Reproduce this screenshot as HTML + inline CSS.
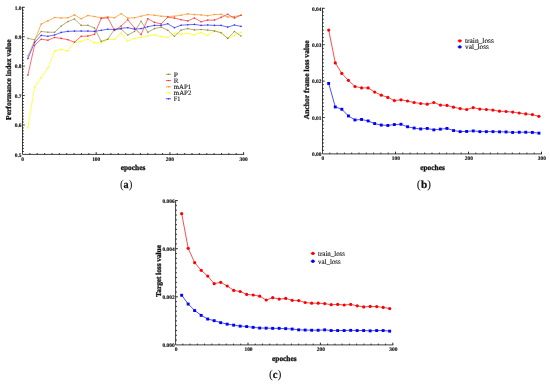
<!DOCTYPE html>
<html><head><meta charset="utf-8"><title>Figure</title>
<style>
html,body{margin:0;padding:0;background:#fff}
svg{display:block;filter:blur(.3px)}
text{font-family:"Liberation Serif","DejaVu Serif",serif;fill:#111;text-rendering:geometricPrecision}
.tk{font-size:5.4px;font-weight:bold;stroke:#111;stroke-width:.15px}
.lb{font-size:7.5px;font-weight:bold;stroke:#111;stroke-width:.3px}
.lg{font-size:7.2px;stroke:#111;stroke-width:.12px}
.cap{font-size:12px}
.ax{stroke:#2a2a2a;stroke-width:.9;fill:none}
.mt{stroke:#111;stroke-width:.9;fill:none}
.ln{fill:none;stroke-linejoin:round}
</style></head><body>
<svg width="550" height="384" viewBox="0 0 550 384">
<rect width="550" height="384" fill="#fff"/>

<g id="chart-a">
<path class="ax" d="M22.5 6.8V154.4H244.1"/>
<path class="mt" d="M29.87 154.4v-1.3M37.24 154.4v-1.3M44.61 154.4v-1.3M51.98 154.4v-1.3M59.35 154.4v-1.3M66.72 154.4v-1.3M74.09 154.4v-1.3M81.46 154.4v-1.3M88.83 154.4v-1.3M96.20 154.4v-2.2M103.57 154.4v-1.3M110.94 154.4v-1.3M118.31 154.4v-1.3M125.68 154.4v-1.3M133.05 154.4v-1.3M140.42 154.4v-1.3M147.79 154.4v-1.3M155.16 154.4v-1.3M162.53 154.4v-1.3M169.90 154.4v-2.2M177.27 154.4v-1.3M184.64 154.4v-1.3M192.01 154.4v-1.3M199.38 154.4v-1.3M206.75 154.4v-1.3M214.12 154.4v-1.3M221.49 154.4v-1.3M228.86 154.4v-1.3M236.23 154.4v-1.3M243.60 154.4v-2.2M22.5 151.46h1.3M22.5 148.52h1.3M22.5 145.57h1.3M22.5 142.63h1.3M22.5 139.69h1.3M22.5 136.75h1.3M22.5 133.81h1.3M22.5 130.86h1.3M22.5 127.92h1.3M22.5 124.98h2.2M22.5 122.04h1.3M22.5 119.10h1.3M22.5 116.15h1.3M22.5 113.21h1.3M22.5 110.27h1.3M22.5 107.33h1.3M22.5 104.39h1.3M22.5 101.44h1.3M22.5 98.50h1.3M22.5 95.56h2.2M22.5 92.62h1.3M22.5 89.68h1.3M22.5 86.73h1.3M22.5 83.79h1.3M22.5 80.85h1.3M22.5 77.91h1.3M22.5 74.97h1.3M22.5 72.02h1.3M22.5 69.08h1.3M22.5 66.14h2.2M22.5 63.20h1.3M22.5 60.26h1.3M22.5 57.31h1.3M22.5 54.37h1.3M22.5 51.43h1.3M22.5 48.49h1.3M22.5 45.55h1.3M22.5 42.60h1.3M22.5 39.66h1.3M22.5 36.72h2.2M22.5 33.78h1.3M22.5 30.84h1.3M22.5 27.89h1.3M22.5 24.95h1.3M22.5 22.01h1.3M22.5 19.07h1.3M22.5 16.13h1.3M22.5 13.18h1.3M22.5 10.24h1.3M22.5 7.30h2.2"/>
<text class="tk" x="22.5" y="161.0" text-anchor="middle">0</text>
<text class="tk" x="96.2" y="161.0" text-anchor="middle">100</text>
<text class="tk" x="169.9" y="161.0" text-anchor="middle">200</text>
<text class="tk" x="243.6" y="161.0" text-anchor="middle">300</text>
<text class="tk" x="21.5" y="156.6" text-anchor="end">0.5</text>
<text class="tk" x="21.5" y="127.2" text-anchor="end">0.6</text>
<text class="tk" x="21.5" y="97.8" text-anchor="end">0.7</text>
<text class="tk" x="21.5" y="68.3" text-anchor="end">0.8</text>
<text class="tk" x="21.5" y="38.9" text-anchor="end">0.9</text>
<text class="tk" x="21.5" y="9.5" text-anchor="end">1.0</text>
<polyline class="ln" stroke="#ffff00" stroke-width="0.68" points="27.9,127.9 34.6,87.0 41.2,77.6 47.9,68.0 54.6,51.1 61.2,49.4 67.9,51.0 74.5,42.0 81.2,41.4 87.9,39.2 94.5,42.9 101.2,43.0 107.8,39.4 114.5,39.4 121.2,33.1 127.8,41.0 134.5,38.5 141.1,37.1 147.8,36.0 154.5,34.8 161.1,36.6 167.8,37.5 174.4,33.3 181.1,34.3 187.8,33.3 194.4,35.0 201.1,32.4 207.7,35.4 214.4,31.1 221.1,32.4 227.7,38.4 234.4,35.4 241.0,32.2"/>
<g fill="#ffff00"><circle cx="27.9" cy="127.9" r="0.8"/><circle cx="34.6" cy="87.0" r="0.8"/><circle cx="41.2" cy="77.6" r="0.8"/><circle cx="47.9" cy="68.0" r="0.8"/><circle cx="54.6" cy="51.1" r="0.8"/><circle cx="61.2" cy="49.4" r="0.8"/><circle cx="67.9" cy="51.0" r="0.8"/><circle cx="74.5" cy="42.0" r="0.8"/><circle cx="81.2" cy="41.4" r="0.8"/><circle cx="87.9" cy="39.2" r="0.8"/><circle cx="94.5" cy="42.9" r="0.8"/><circle cx="101.2" cy="43.0" r="0.8"/><circle cx="107.8" cy="39.4" r="0.8"/><circle cx="114.5" cy="39.4" r="0.8"/><circle cx="121.2" cy="33.1" r="0.8"/><circle cx="127.8" cy="41.0" r="0.8"/><circle cx="134.5" cy="38.5" r="0.8"/><circle cx="141.1" cy="37.1" r="0.8"/><circle cx="147.8" cy="36.0" r="0.8"/><circle cx="154.5" cy="34.8" r="0.8"/><circle cx="161.1" cy="36.6" r="0.8"/><circle cx="167.8" cy="37.5" r="0.8"/><circle cx="174.4" cy="33.3" r="0.8"/><circle cx="181.1" cy="34.3" r="0.8"/><circle cx="187.8" cy="33.3" r="0.8"/><circle cx="194.4" cy="35.0" r="0.8"/><circle cx="201.1" cy="32.4" r="0.8"/><circle cx="207.7" cy="35.4" r="0.8"/><circle cx="214.4" cy="31.1" r="0.8"/><circle cx="221.1" cy="32.4" r="0.8"/><circle cx="227.7" cy="38.4" r="0.8"/><circle cx="234.4" cy="35.4" r="0.8"/><circle cx="241.0" cy="32.2" r="0.8"/></g>
<polyline class="ln" stroke="#8f8a3a" stroke-width="0.68" points="27.9,38.4 34.6,39.7 41.2,31.5 47.9,32.2 54.6,32.3 61.2,26.0 67.9,21.6 74.5,19.0 81.2,25.4 87.9,25.3 94.5,28.0 101.2,41.4 107.8,39.2 114.5,29.2 121.2,29.2 127.8,35.0 134.5,31.5 141.1,21.3 147.8,32.2 154.5,28.6 161.1,27.1 167.8,30.3 174.4,36.3 181.1,30.1 187.8,28.6 194.4,29.9 201.1,29.5 207.7,30.1 214.4,30.9 221.1,32.8 227.7,38.4 234.4,31.5 241.0,36.0"/>
<g fill="#8f8a3a"><circle cx="27.9" cy="38.4" r="0.8"/><circle cx="34.6" cy="39.7" r="0.8"/><circle cx="41.2" cy="31.5" r="0.8"/><circle cx="47.9" cy="32.2" r="0.8"/><circle cx="54.6" cy="32.3" r="0.8"/><circle cx="61.2" cy="26.0" r="0.8"/><circle cx="67.9" cy="21.6" r="0.8"/><circle cx="74.5" cy="19.0" r="0.8"/><circle cx="81.2" cy="25.4" r="0.8"/><circle cx="87.9" cy="25.3" r="0.8"/><circle cx="94.5" cy="28.0" r="0.8"/><circle cx="101.2" cy="41.4" r="0.8"/><circle cx="107.8" cy="39.2" r="0.8"/><circle cx="114.5" cy="29.2" r="0.8"/><circle cx="121.2" cy="29.2" r="0.8"/><circle cx="127.8" cy="35.0" r="0.8"/><circle cx="134.5" cy="31.5" r="0.8"/><circle cx="141.1" cy="21.3" r="0.8"/><circle cx="147.8" cy="32.2" r="0.8"/><circle cx="154.5" cy="28.6" r="0.8"/><circle cx="161.1" cy="27.1" r="0.8"/><circle cx="167.8" cy="30.3" r="0.8"/><circle cx="174.4" cy="36.3" r="0.8"/><circle cx="181.1" cy="30.1" r="0.8"/><circle cx="187.8" cy="28.6" r="0.8"/><circle cx="194.4" cy="29.9" r="0.8"/><circle cx="201.1" cy="29.5" r="0.8"/><circle cx="207.7" cy="30.1" r="0.8"/><circle cx="214.4" cy="30.9" r="0.8"/><circle cx="221.1" cy="32.8" r="0.8"/><circle cx="227.7" cy="38.4" r="0.8"/><circle cx="234.4" cy="31.5" r="0.8"/><circle cx="241.0" cy="36.0" r="0.8"/></g>
<polyline class="ln" stroke="#ff8c1a" stroke-width="0.68" points="27.9,56.0 34.6,40.5 41.2,24.1 47.9,20.9 54.6,17.5 61.2,18.0 67.9,17.8 74.5,14.9 81.2,18.8 87.9,15.5 94.5,16.5 101.2,17.8 107.8,16.9 114.5,17.8 121.2,13.7 127.8,18.1 134.5,17.8 141.1,16.2 147.8,14.6 154.5,15.2 161.1,16.2 167.8,16.5 174.4,16.2 181.1,15.2 187.8,13.9 194.4,14.6 201.1,14.9 207.7,15.8 214.4,14.5 221.1,14.3 227.7,17.1 234.4,16.5 241.0,15.2"/>
<g fill="#ff8c1a"><circle cx="27.9" cy="56.0" r="0.8"/><circle cx="34.6" cy="40.5" r="0.8"/><circle cx="41.2" cy="24.1" r="0.8"/><circle cx="47.9" cy="20.9" r="0.8"/><circle cx="54.6" cy="17.5" r="0.8"/><circle cx="61.2" cy="18.0" r="0.8"/><circle cx="67.9" cy="17.8" r="0.8"/><circle cx="74.5" cy="14.9" r="0.8"/><circle cx="81.2" cy="18.8" r="0.8"/><circle cx="87.9" cy="15.5" r="0.8"/><circle cx="94.5" cy="16.5" r="0.8"/><circle cx="101.2" cy="17.8" r="0.8"/><circle cx="107.8" cy="16.9" r="0.8"/><circle cx="114.5" cy="17.8" r="0.8"/><circle cx="121.2" cy="13.7" r="0.8"/><circle cx="127.8" cy="18.1" r="0.8"/><circle cx="134.5" cy="17.8" r="0.8"/><circle cx="141.1" cy="16.2" r="0.8"/><circle cx="147.8" cy="14.6" r="0.8"/><circle cx="154.5" cy="15.2" r="0.8"/><circle cx="161.1" cy="16.2" r="0.8"/><circle cx="167.8" cy="16.5" r="0.8"/><circle cx="174.4" cy="16.2" r="0.8"/><circle cx="181.1" cy="15.2" r="0.8"/><circle cx="187.8" cy="13.9" r="0.8"/><circle cx="194.4" cy="14.6" r="0.8"/><circle cx="201.1" cy="14.9" r="0.8"/><circle cx="207.7" cy="15.8" r="0.8"/><circle cx="214.4" cy="14.5" r="0.8"/><circle cx="221.1" cy="14.3" r="0.8"/><circle cx="227.7" cy="17.1" r="0.8"/><circle cx="234.4" cy="16.5" r="0.8"/><circle cx="241.0" cy="15.2" r="0.8"/></g>
<polyline class="ln" stroke="#ff2a2a" stroke-width="0.68" points="27.9,75.1 34.6,45.2 41.2,39.2 47.9,40.2 54.6,37.5 61.2,38.4 67.9,39.7 74.5,42.2 81.2,36.3 87.9,36.1 94.5,34.3 101.2,18.4 107.8,17.8 114.5,30.5 121.2,26.0 127.8,19.7 134.5,28.0 141.1,34.6 147.8,18.8 154.5,22.4 161.1,23.9 167.8,17.1 174.4,18.1 181.1,19.7 187.8,20.9 194.4,18.0 201.1,21.8 207.7,20.1 214.4,20.1 221.1,17.4 227.7,14.3 234.4,18.1 241.0,15.2"/>
<g fill="#ff2a2a"><circle cx="27.9" cy="75.1" r="0.8"/><circle cx="34.6" cy="45.2" r="0.8"/><circle cx="41.2" cy="39.2" r="0.8"/><circle cx="47.9" cy="40.2" r="0.8"/><circle cx="54.6" cy="37.5" r="0.8"/><circle cx="61.2" cy="38.4" r="0.8"/><circle cx="67.9" cy="39.7" r="0.8"/><circle cx="74.5" cy="42.2" r="0.8"/><circle cx="81.2" cy="36.3" r="0.8"/><circle cx="87.9" cy="36.1" r="0.8"/><circle cx="94.5" cy="34.3" r="0.8"/><circle cx="101.2" cy="18.4" r="0.8"/><circle cx="107.8" cy="17.8" r="0.8"/><circle cx="114.5" cy="30.5" r="0.8"/><circle cx="121.2" cy="26.0" r="0.8"/><circle cx="127.8" cy="19.7" r="0.8"/><circle cx="134.5" cy="28.0" r="0.8"/><circle cx="141.1" cy="34.6" r="0.8"/><circle cx="147.8" cy="18.8" r="0.8"/><circle cx="154.5" cy="22.4" r="0.8"/><circle cx="161.1" cy="23.9" r="0.8"/><circle cx="167.8" cy="17.1" r="0.8"/><circle cx="174.4" cy="18.1" r="0.8"/><circle cx="181.1" cy="19.7" r="0.8"/><circle cx="187.8" cy="20.9" r="0.8"/><circle cx="194.4" cy="18.0" r="0.8"/><circle cx="201.1" cy="21.8" r="0.8"/><circle cx="207.7" cy="20.1" r="0.8"/><circle cx="214.4" cy="20.1" r="0.8"/><circle cx="221.1" cy="17.4" r="0.8"/><circle cx="227.7" cy="14.3" r="0.8"/><circle cx="234.4" cy="18.1" r="0.8"/><circle cx="241.0" cy="15.2" r="0.8"/></g>
<polyline class="ln" stroke="#2a2aff" stroke-width="0.68" points="27.9,58.6 34.6,42.4 41.2,35.4 47.9,36.3 54.6,35.0 61.2,32.4 67.9,31.4 74.5,31.1 81.2,31.1 87.9,31.1 94.5,31.4 101.2,30.3 107.8,29.2 114.5,29.6 121.2,28.3 127.8,27.7 134.5,29.2 141.1,28.6 147.8,26.7 154.5,25.4 161.1,25.4 167.8,23.8 174.4,27.7 181.1,25.2 187.8,24.8 194.4,24.4 201.1,25.4 207.7,25.0 214.4,25.4 221.1,25.4 227.7,27.1 234.4,25.0 241.0,26.4"/>
<g fill="#2a2aff"><circle cx="27.9" cy="58.6" r="0.8"/><circle cx="34.6" cy="42.4" r="0.8"/><circle cx="41.2" cy="35.4" r="0.8"/><circle cx="47.9" cy="36.3" r="0.8"/><circle cx="54.6" cy="35.0" r="0.8"/><circle cx="61.2" cy="32.4" r="0.8"/><circle cx="67.9" cy="31.4" r="0.8"/><circle cx="74.5" cy="31.1" r="0.8"/><circle cx="81.2" cy="31.1" r="0.8"/><circle cx="87.9" cy="31.1" r="0.8"/><circle cx="94.5" cy="31.4" r="0.8"/><circle cx="101.2" cy="30.3" r="0.8"/><circle cx="107.8" cy="29.2" r="0.8"/><circle cx="114.5" cy="29.6" r="0.8"/><circle cx="121.2" cy="28.3" r="0.8"/><circle cx="127.8" cy="27.7" r="0.8"/><circle cx="134.5" cy="29.2" r="0.8"/><circle cx="141.1" cy="28.6" r="0.8"/><circle cx="147.8" cy="26.7" r="0.8"/><circle cx="154.5" cy="25.4" r="0.8"/><circle cx="161.1" cy="25.4" r="0.8"/><circle cx="167.8" cy="23.8" r="0.8"/><circle cx="174.4" cy="27.7" r="0.8"/><circle cx="181.1" cy="25.2" r="0.8"/><circle cx="187.8" cy="24.8" r="0.8"/><circle cx="194.4" cy="24.4" r="0.8"/><circle cx="201.1" cy="25.4" r="0.8"/><circle cx="207.7" cy="25.0" r="0.8"/><circle cx="214.4" cy="25.4" r="0.8"/><circle cx="221.1" cy="25.4" r="0.8"/><circle cx="227.7" cy="27.1" r="0.8"/><circle cx="234.4" cy="25.0" r="0.8"/><circle cx="241.0" cy="26.4" r="0.8"/></g>
<path d="M166 74.3h5" stroke="#8f8a3a" stroke-width=".8"/><circle cx="168.5" cy="74.3" r=".7" fill="#8f8a3a"/>
<text class="lg" style="font-size:6.9px" x="173.8" y="76.6" textLength="4.2" lengthAdjust="spacingAndGlyphs">P</text>
<path d="M166 80.6h5" stroke="#ff2a2a" stroke-width=".8"/><circle cx="168.5" cy="80.6" r=".7" fill="#ff2a2a"/>
<text class="lg" style="font-size:6.9px" x="173.8" y="82.9" textLength="4.7" lengthAdjust="spacingAndGlyphs">R</text>
<path d="M166 86.8h5" stroke="#ff8c1a" stroke-width=".8"/><circle cx="168.5" cy="86.8" r=".7" fill="#ff8c1a"/>
<text class="lg" style="font-size:6.9px" x="173.8" y="89.1" textLength="17.3" lengthAdjust="spacingAndGlyphs">mAP1</text>
<path d="M166 92.9h5" stroke="#ffff00" stroke-width=".8"/><circle cx="168.5" cy="92.9" r=".7" fill="#ffff00"/>
<text class="lg" style="font-size:6.9px" x="173.8" y="95.2" textLength="17.6" lengthAdjust="spacingAndGlyphs">mAP2</text>
<path d="M166 98.8h5" stroke="#2a2aff" stroke-width=".8"/><circle cx="168.5" cy="98.8" r=".7" fill="#2a2aff"/>
<text class="lg" style="font-size:6.9px" x="173.8" y="101.1" textLength="6.7" lengthAdjust="spacingAndGlyphs">F1</text>
<text class="lb" transform="translate(10.9 79.7) rotate(-90)" text-anchor="middle" textLength="80.6" lengthAdjust="spacing">Performance index value</text>
<text class="lb" x="133" y="170.4" text-anchor="middle" textLength="24.5" lengthAdjust="spacingAndGlyphs">epoches</text>
<text class="cap" transform="translate(126.1 188.0) scale(.92 1)" text-anchor="middle">(<tspan font-weight="bold" font-size="11" stroke="#111" stroke-width=".25">a</tspan>)</text>
</g>
<g id="chart-b">
<path class="ax" d="M322.5 7.8V153.9H542.0"/>
<path class="mt" d="M329.80 153.9v-1.3M337.10 153.9v-1.3M344.40 153.9v-1.3M351.70 153.9v-1.3M359.00 153.9v-1.3M366.30 153.9v-1.3M373.60 153.9v-1.3M380.90 153.9v-1.3M388.20 153.9v-1.3M395.50 153.9v-2.2M402.80 153.9v-1.3M410.10 153.9v-1.3M417.40 153.9v-1.3M424.70 153.9v-1.3M432.00 153.9v-1.3M439.30 153.9v-1.3M446.60 153.9v-1.3M453.90 153.9v-1.3M461.20 153.9v-1.3M468.50 153.9v-2.2M475.80 153.9v-1.3M483.10 153.9v-1.3M490.40 153.9v-1.3M497.70 153.9v-1.3M505.00 153.9v-1.3M512.30 153.9v-1.3M519.60 153.9v-1.3M526.90 153.9v-1.3M534.20 153.9v-1.3M541.50 153.9v-2.2M322.5 150.26h1.3M322.5 146.62h1.3M322.5 142.98h1.3M322.5 139.34h1.3M322.5 135.70h1.3M322.5 132.06h1.3M322.5 128.42h1.3M322.5 124.78h1.3M322.5 121.14h1.3M322.5 117.50h2.2M322.5 113.86h1.3M322.5 110.22h1.3M322.5 106.58h1.3M322.5 102.94h1.3M322.5 99.30h1.3M322.5 95.66h1.3M322.5 92.02h1.3M322.5 88.38h1.3M322.5 84.74h1.3M322.5 81.10h2.2M322.5 77.46h1.3M322.5 73.82h1.3M322.5 70.18h1.3M322.5 66.54h1.3M322.5 62.90h1.3M322.5 59.26h1.3M322.5 55.62h1.3M322.5 51.98h1.3M322.5 48.34h1.3M322.5 44.70h2.2M322.5 41.06h1.3M322.5 37.42h1.3M322.5 33.78h1.3M322.5 30.14h1.3M322.5 26.50h1.3M322.5 22.86h1.3M322.5 19.22h1.3M322.5 15.58h1.3M322.5 11.94h1.3M322.5 8.30h2.2"/>
<text class="tk" x="322.9" y="160.0" text-anchor="middle">0</text>
<text class="tk" x="395.9" y="160.0" text-anchor="middle">100</text>
<text class="tk" x="468.9" y="160.0" text-anchor="middle">200</text>
<text class="tk" x="541.9" y="160.0" text-anchor="middle">300</text>
<text class="tk" x="321.5" y="156.1" text-anchor="end">0.00</text>
<text class="tk" x="321.5" y="119.7" text-anchor="end">0.01</text>
<text class="tk" x="321.5" y="83.3" text-anchor="end">0.02</text>
<text class="tk" x="321.5" y="46.9" text-anchor="end">0.03</text>
<text class="tk" x="321.5" y="10.5" text-anchor="end">0.04</text>
<polyline class="ln" stroke="#ff0000" stroke-width="0.70" points="328.7,30.1 335.3,62.9 341.8,73.4 348.4,80.3 355.0,86.5 361.6,87.9 368.1,87.9 374.7,92.1 381.3,95.2 387.8,97.4 394.4,100.6 401.0,99.8 407.5,101.0 414.1,102.5 420.7,103.5 427.2,104.2 433.8,102.5 440.4,105.1 447.0,105.4 453.5,107.2 460.1,108.6 466.7,109.5 473.2,107.6 479.8,109.1 486.4,109.5 492.9,110.1 499.5,111.2 506.1,111.5 512.7,112.1 519.2,113.0 525.8,113.9 532.4,114.6 538.9,116.3"/>
<g fill="#ff0000"><circle cx="328.7" cy="30.1" r="1.6"/><circle cx="335.3" cy="62.9" r="1.6"/><circle cx="341.8" cy="73.4" r="1.6"/><circle cx="348.4" cy="80.3" r="1.6"/><circle cx="355.0" cy="86.5" r="1.6"/><circle cx="361.6" cy="87.9" r="1.6"/><circle cx="368.1" cy="87.9" r="1.6"/><circle cx="374.7" cy="92.1" r="1.6"/><circle cx="381.3" cy="95.2" r="1.6"/><circle cx="387.8" cy="97.4" r="1.6"/><circle cx="394.4" cy="100.6" r="1.6"/><circle cx="401.0" cy="99.8" r="1.6"/><circle cx="407.5" cy="101.0" r="1.6"/><circle cx="414.1" cy="102.5" r="1.6"/><circle cx="420.7" cy="103.5" r="1.6"/><circle cx="427.2" cy="104.2" r="1.6"/><circle cx="433.8" cy="102.5" r="1.6"/><circle cx="440.4" cy="105.1" r="1.6"/><circle cx="447.0" cy="105.4" r="1.6"/><circle cx="453.5" cy="107.2" r="1.6"/><circle cx="460.1" cy="108.6" r="1.6"/><circle cx="466.7" cy="109.5" r="1.6"/><circle cx="473.2" cy="107.6" r="1.6"/><circle cx="479.8" cy="109.1" r="1.6"/><circle cx="486.4" cy="109.5" r="1.6"/><circle cx="492.9" cy="110.1" r="1.6"/><circle cx="499.5" cy="111.2" r="1.6"/><circle cx="506.1" cy="111.5" r="1.6"/><circle cx="512.7" cy="112.1" r="1.6"/><circle cx="519.2" cy="113.0" r="1.6"/><circle cx="525.8" cy="113.9" r="1.6"/><circle cx="532.4" cy="114.6" r="1.6"/><circle cx="538.9" cy="116.3" r="1.6"/></g>
<polyline class="ln" stroke="#0000ff" stroke-width="0.70" points="328.7,83.4 335.3,106.9 341.8,109.3 348.4,115.9 355.0,120.0 361.6,119.5 368.1,120.9 374.7,123.6 381.3,125.1 387.8,125.4 394.4,124.6 401.0,124.3 407.5,126.8 414.1,128.1 420.7,129.0 427.2,128.4 433.8,129.8 440.4,129.2 447.0,128.4 453.5,130.5 460.1,131.6 466.7,131.4 473.2,130.9 479.8,131.6 486.4,131.6 492.9,131.6 499.5,131.8 506.1,131.9 512.7,132.4 519.2,132.2 525.8,132.2 532.4,132.4 538.9,133.1"/>
<g fill="#0000ff"><rect x="327.2" y="82.0" width="2.9" height="2.9"/><rect x="333.8" y="105.5" width="2.9" height="2.9"/><rect x="340.4" y="107.8" width="2.9" height="2.9"/><rect x="347.0" y="114.5" width="2.9" height="2.9"/><rect x="353.5" y="118.5" width="2.9" height="2.9"/><rect x="360.1" y="118.0" width="2.9" height="2.9"/><rect x="366.7" y="119.5" width="2.9" height="2.9"/><rect x="373.2" y="122.1" width="2.9" height="2.9"/><rect x="379.8" y="123.6" width="2.9" height="2.9"/><rect x="386.4" y="124.0" width="2.9" height="2.9"/><rect x="392.9" y="123.1" width="2.9" height="2.9"/><rect x="399.5" y="122.8" width="2.9" height="2.9"/><rect x="406.1" y="125.3" width="2.9" height="2.9"/><rect x="412.7" y="126.6" width="2.9" height="2.9"/><rect x="419.2" y="127.5" width="2.9" height="2.9"/><rect x="425.8" y="127.0" width="2.9" height="2.9"/><rect x="432.4" y="128.4" width="2.9" height="2.9"/><rect x="438.9" y="127.7" width="2.9" height="2.9"/><rect x="445.5" y="127.0" width="2.9" height="2.9"/><rect x="452.1" y="129.1" width="2.9" height="2.9"/><rect x="458.7" y="130.2" width="2.9" height="2.9"/><rect x="465.2" y="130.0" width="2.9" height="2.9"/><rect x="471.8" y="129.5" width="2.9" height="2.9"/><rect x="478.4" y="130.2" width="2.9" height="2.9"/><rect x="484.9" y="130.2" width="2.9" height="2.9"/><rect x="491.5" y="130.2" width="2.9" height="2.9"/><rect x="498.1" y="130.4" width="2.9" height="2.9"/><rect x="504.6" y="130.5" width="2.9" height="2.9"/><rect x="511.2" y="131.0" width="2.9" height="2.9"/><rect x="517.8" y="130.8" width="2.9" height="2.9"/><rect x="524.3" y="130.8" width="2.9" height="2.9"/><rect x="530.9" y="131.0" width="2.9" height="2.9"/><rect x="537.5" y="131.7" width="2.9" height="2.9"/></g>
<path d="M457.6 40.8h4.4" stroke="#ff0000" stroke-width=".8"/><circle cx="459.8" cy="40.8" r="1.6" fill="#ff0000"/>
<path d="M457.6 46.9h4.4" stroke="#0000ff" stroke-width=".8"/><circle cx="459.8" cy="46.9" r="1.6" fill="#0000ff"/>
<text class="lg" x="465" y="43.2" textLength="28.9" lengthAdjust="spacingAndGlyphs">train_loss</text>
<text class="lg" x="465" y="49.3" textLength="23.9" lengthAdjust="spacingAndGlyphs">val_loss</text>
<text class="lb" transform="translate(309.4 79.8) rotate(-90)" text-anchor="middle" textLength="79" lengthAdjust="spacing">Anchor frame loss value</text>
<text class="lb" x="432.5" y="170.4" text-anchor="middle" textLength="24.5" lengthAdjust="spacingAndGlyphs">epoches</text>
<text class="cap" transform="translate(424 188.0) scale(1.02 1)" text-anchor="middle">(<tspan font-weight="bold" font-size="11" stroke="#111" stroke-width=".25">b</tspan>)</text>
</g>
<g id="chart-c">
<path class="ax" d="M175.6 200.1V344.9H393.3"/>
<path class="mt" d="M182.84 344.9v-1.3M190.08 344.9v-1.3M197.32 344.9v-1.3M204.56 344.9v-1.3M211.80 344.9v-1.3M219.04 344.9v-1.3M226.28 344.9v-1.3M233.52 344.9v-1.3M240.76 344.9v-1.3M248.00 344.9v-2.2M255.24 344.9v-1.3M262.48 344.9v-1.3M269.72 344.9v-1.3M276.96 344.9v-1.3M284.20 344.9v-1.3M291.44 344.9v-1.3M298.68 344.9v-1.3M305.92 344.9v-1.3M313.16 344.9v-1.3M320.40 344.9v-2.2M327.64 344.9v-1.3M334.88 344.9v-1.3M342.12 344.9v-1.3M349.36 344.9v-1.3M356.60 344.9v-1.3M363.84 344.9v-1.3M371.08 344.9v-1.3M378.32 344.9v-1.3M385.56 344.9v-1.3M392.80 344.9v-2.2M175.6 340.09h1.3M175.6 335.28h1.3M175.6 330.47h1.3M175.6 325.66h1.3M175.6 320.85h1.3M175.6 316.04h1.3M175.6 311.23h1.3M175.6 306.42h1.3M175.6 301.61h1.3M175.6 296.80h2.2M175.6 291.99h1.3M175.6 287.18h1.3M175.6 282.37h1.3M175.6 277.56h1.3M175.6 272.75h1.3M175.6 267.94h1.3M175.6 263.13h1.3M175.6 258.32h1.3M175.6 253.51h1.3M175.6 248.70h2.2M175.6 243.89h1.3M175.6 239.08h1.3M175.6 234.27h1.3M175.6 229.46h1.3M175.6 224.65h1.3M175.6 219.84h1.3M175.6 215.03h1.3M175.6 210.22h1.3M175.6 205.41h1.3M175.6 200.60h2.2"/>
<text class="tk" x="176.1" y="350.7" text-anchor="middle">0</text>
<text class="tk" x="248.5" y="350.7" text-anchor="middle">100</text>
<text class="tk" x="320.9" y="350.7" text-anchor="middle">200</text>
<text class="tk" x="393.3" y="350.7" text-anchor="middle">300</text>
<text class="tk" x="174.6" y="347.1" text-anchor="end">0.000</text>
<text class="tk" x="174.6" y="299.0" text-anchor="end">0.002</text>
<text class="tk" x="174.6" y="250.9" text-anchor="end">0.004</text>
<text class="tk" x="174.6" y="202.8" text-anchor="end">0.006</text>
<polyline class="ln" stroke="#ff0000" stroke-width="0.70" points="181.7,213.7 188.2,248.3 194.7,262.7 201.2,270.3 207.7,276.1 214.2,283.7 220.7,282.3 227.2,286.0 233.7,290.4 240.2,291.5 246.7,294.4 253.2,295.0 259.7,296.2 266.2,300.0 272.7,297.7 279.2,299.1 285.7,298.4 292.2,300.3 298.7,300.6 305.2,302.5 311.7,303.2 318.2,303.2 324.7,303.6 331.2,304.7 337.7,304.4 344.2,305.0 350.7,304.4 357.2,305.8 363.7,306.9 370.2,306.4 376.7,306.6 383.2,307.4 389.7,308.6"/>
<g fill="#ff0000"><circle cx="181.7" cy="213.7" r="1.6"/><circle cx="188.2" cy="248.3" r="1.6"/><circle cx="194.7" cy="262.7" r="1.6"/><circle cx="201.2" cy="270.3" r="1.6"/><circle cx="207.7" cy="276.1" r="1.6"/><circle cx="214.2" cy="283.7" r="1.6"/><circle cx="220.7" cy="282.3" r="1.6"/><circle cx="227.2" cy="286.0" r="1.6"/><circle cx="233.7" cy="290.4" r="1.6"/><circle cx="240.2" cy="291.5" r="1.6"/><circle cx="246.7" cy="294.4" r="1.6"/><circle cx="253.2" cy="295.0" r="1.6"/><circle cx="259.7" cy="296.2" r="1.6"/><circle cx="266.2" cy="300.0" r="1.6"/><circle cx="272.7" cy="297.7" r="1.6"/><circle cx="279.2" cy="299.1" r="1.6"/><circle cx="285.7" cy="298.4" r="1.6"/><circle cx="292.2" cy="300.3" r="1.6"/><circle cx="298.7" cy="300.6" r="1.6"/><circle cx="305.2" cy="302.5" r="1.6"/><circle cx="311.7" cy="303.2" r="1.6"/><circle cx="318.2" cy="303.2" r="1.6"/><circle cx="324.7" cy="303.6" r="1.6"/><circle cx="331.2" cy="304.7" r="1.6"/><circle cx="337.7" cy="304.4" r="1.6"/><circle cx="344.2" cy="305.0" r="1.6"/><circle cx="350.7" cy="304.4" r="1.6"/><circle cx="357.2" cy="305.8" r="1.6"/><circle cx="363.7" cy="306.9" r="1.6"/><circle cx="370.2" cy="306.4" r="1.6"/><circle cx="376.7" cy="306.6" r="1.6"/><circle cx="383.2" cy="307.4" r="1.6"/><circle cx="389.7" cy="308.6" r="1.6"/></g>
<polyline class="ln" stroke="#0000ff" stroke-width="0.70" points="181.7,295.2 188.2,304.0 194.7,310.5 201.2,315.3 207.7,319.0 214.2,320.7 220.7,322.6 227.2,324.1 233.7,325.1 240.2,326.1 246.7,326.5 253.2,327.3 259.7,328.0 266.2,328.1 272.7,328.3 279.2,328.4 285.7,328.7 292.2,329.0 298.7,329.8 305.2,330.0 311.7,330.2 318.2,330.2 324.7,329.9 331.2,330.5 337.7,330.5 344.2,330.5 350.7,330.3 357.2,330.5 363.7,330.5 370.2,330.8 376.7,330.5 383.2,330.5 389.7,331.1"/>
<g fill="#0000ff"><rect x="180.2" y="293.8" width="2.9" height="2.9"/><rect x="186.7" y="302.6" width="2.9" height="2.9"/><rect x="193.2" y="309.1" width="2.9" height="2.9"/><rect x="199.7" y="313.9" width="2.9" height="2.9"/><rect x="206.2" y="317.6" width="2.9" height="2.9"/><rect x="212.7" y="319.2" width="2.9" height="2.9"/><rect x="219.2" y="321.2" width="2.9" height="2.9"/><rect x="225.7" y="322.7" width="2.9" height="2.9"/><rect x="232.2" y="323.7" width="2.9" height="2.9"/><rect x="238.7" y="324.7" width="2.9" height="2.9"/><rect x="245.2" y="325.1" width="2.9" height="2.9"/><rect x="251.7" y="325.9" width="2.9" height="2.9"/><rect x="258.2" y="326.6" width="2.9" height="2.9"/><rect x="264.7" y="326.7" width="2.9" height="2.9"/><rect x="271.2" y="326.9" width="2.9" height="2.9"/><rect x="277.7" y="326.9" width="2.9" height="2.9"/><rect x="284.2" y="327.2" width="2.9" height="2.9"/><rect x="290.7" y="327.6" width="2.9" height="2.9"/><rect x="297.2" y="328.4" width="2.9" height="2.9"/><rect x="303.7" y="328.6" width="2.9" height="2.9"/><rect x="310.2" y="328.8" width="2.9" height="2.9"/><rect x="316.7" y="328.8" width="2.9" height="2.9"/><rect x="323.2" y="328.4" width="2.9" height="2.9"/><rect x="329.7" y="329.1" width="2.9" height="2.9"/><rect x="336.2" y="329.1" width="2.9" height="2.9"/><rect x="342.7" y="329.1" width="2.9" height="2.9"/><rect x="349.2" y="328.9" width="2.9" height="2.9"/><rect x="355.7" y="329.1" width="2.9" height="2.9"/><rect x="362.2" y="329.1" width="2.9" height="2.9"/><rect x="368.7" y="329.4" width="2.9" height="2.9"/><rect x="375.2" y="329.1" width="2.9" height="2.9"/><rect x="381.7" y="329.1" width="2.9" height="2.9"/><rect x="388.2" y="329.7" width="2.9" height="2.9"/></g>
<path d="M310.7 253.4h4.4" stroke="#ff0000" stroke-width=".8"/><circle cx="312.9" cy="253.4" r="1.7" fill="#ff0000"/>
<path d="M310.7 261.3h4.4" stroke="#0000ff" stroke-width=".8"/><circle cx="312.9" cy="261.3" r="1.7" fill="#0000ff"/>
<text class="lg" x="318.1" y="255.6" textLength="26.9" lengthAdjust="spacingAndGlyphs">train_loss</text>
<text class="lg" x="318.1" y="263.5" textLength="22.6" lengthAdjust="spacingAndGlyphs">val_loss</text>
<text class="lb" transform="translate(161.2 271) rotate(-90)" text-anchor="middle" textLength="52" lengthAdjust="spacing">Target loss value</text>
<text class="lb" x="284.3" y="360.6" text-anchor="middle" textLength="24.5" lengthAdjust="spacingAndGlyphs">epoches</text>
<text class="cap" transform="translate(275.2 378.2) scale(.98 1)" text-anchor="middle">(<tspan font-weight="bold" font-size="11" stroke="#111" stroke-width=".25">c</tspan>)</text>
</g>
</svg>
</body></html>
